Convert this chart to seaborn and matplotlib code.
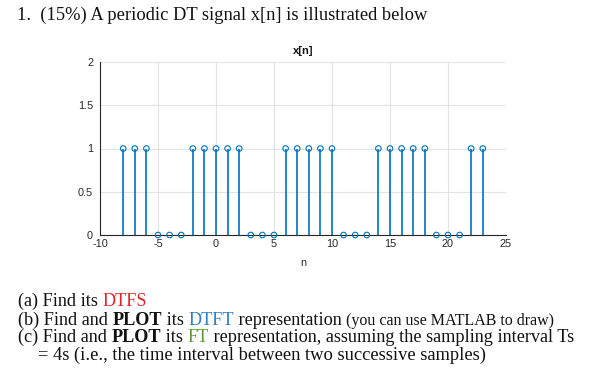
import numpy as np
import pandas as pd
import matplotlib
matplotlib.use("Agg")
import matplotlib.pyplot as plt
import seaborn as sns

# ---- data ----
n_vals = list(range(-8, 24))
x_vals = [1, 1, 1, 0, 0, 0,
          1, 1, 1, 1, 1, 0, 0, 0,
          1, 1, 1, 1, 1, 0, 0, 0,
          1, 1, 1, 1, 1, 0, 0, 0,
          1, 1]
x_ticks = [-10, -5, 0, 5, 10, 15, 20, 25]
y_ticks = [0, 0.5, 1, 1.5, 2]
y_ticklabels = ["0", "0.5", "1", "1.5", "2"]

df = pd.DataFrame({"n": n_vals, "x": x_vals})

sns.set_style("whitegrid")
plt.rcParams["font.family"] = ["Liberation Sans", "DejaVu Sans"]
plt.rcParams["axes.unicode_minus"] = False

W, H = 594, 381
fig = plt.figure(figsize=(W / 100, H / 100), dpi=100)
ax = fig.add_axes([100 / W, 1 - 235 / H, 406 / W, 173 / H])

stem_color = "#0072BD"
ax.vlines(df["n"], 0, df["x"], color=stem_color, linewidth=1.2, zorder=3)
sns.scatterplot(data=df, x="n", y="x", ax=ax, marker="o", s=16,
                facecolor="none", edgecolor=stem_color, linewidth=0.8,
                zorder=4, legend=False, clip_on=False)

ax.set_xlim(-10, 25)
ax.set_ylim(0, 2)
ax.set_xticks(x_ticks)
ax.set_yticks(y_ticks)
ax.set_yticklabels(y_ticklabels)
ax.grid(True, color="#e3e3e3", linewidth=0.8)
for s in ["top", "right"]:
    ax.spines[s].set_visible(False)
for s in ["left", "bottom"]:
    ax.spines[s].set_color("#262626")
    ax.spines[s].set_linewidth(0.8)
ax.tick_params(axis="both", labelsize=7.8, colors="#262626", length=4,
               width=0.8, direction="in", pad=3)
ax.tick_params(axis="y", direction="inout")
ax.set_xlabel("n", fontsize=7.8, color="#262626", labelpad=6)
ax.set_ylabel("")
ax.set_title("x[n]", fontsize=8, fontweight="bold", color="#111111", pad=6)

# ---- surrounding text ----
serif = ["Liberation Serif", "DejaVu Serif"]
fig.canvas.draw()
renderer = fig.canvas.get_renderer()


def runs(x_px, y_px, parts):
    x = x_px
    for txt, kw in parts:
        props = dict(fontsize=13.15, color="#111111", family=serif)
        props.update(kw)
        t = fig.text(x / W, 1 - y_px / H, txt, ha="left", va="baseline", **props)
        bb = t.get_window_extent(renderer=renderer)
        x = bb.x1


runs(17, 20, [("1.  (15%) A periodic DT signal x[n] is illustrated below", {"fontsize": 13.3})])
runs(18, 306, [("(a) Find its ", {}), ("DTFS", {"color": "#e0262b"})])
runs(18, 325, [("(b) Find and ", {}), ("PLOT", {"fontweight": "bold"}),
               (" its ", {}), ("DTFT", {"color": "#2f7fc1"}),
               (" representation ", {}),
               ("(you can use MATLAB to draw)", {"fontsize": 11.5})])
runs(18, 342, [("(c) Find and ", {}), ("PLOT", {"fontweight": "bold"}),
               (" its ", {}), ("FT", {"color": "#5e9a3c"}),
               (" representation, assuming the sampling interval Ts", {})])
runs(38, 360, [("= 4s (i.e., the time interval between two successive samples)", {"fontsize": 13.3})])

fig.savefig("out.png", dpi=100)
